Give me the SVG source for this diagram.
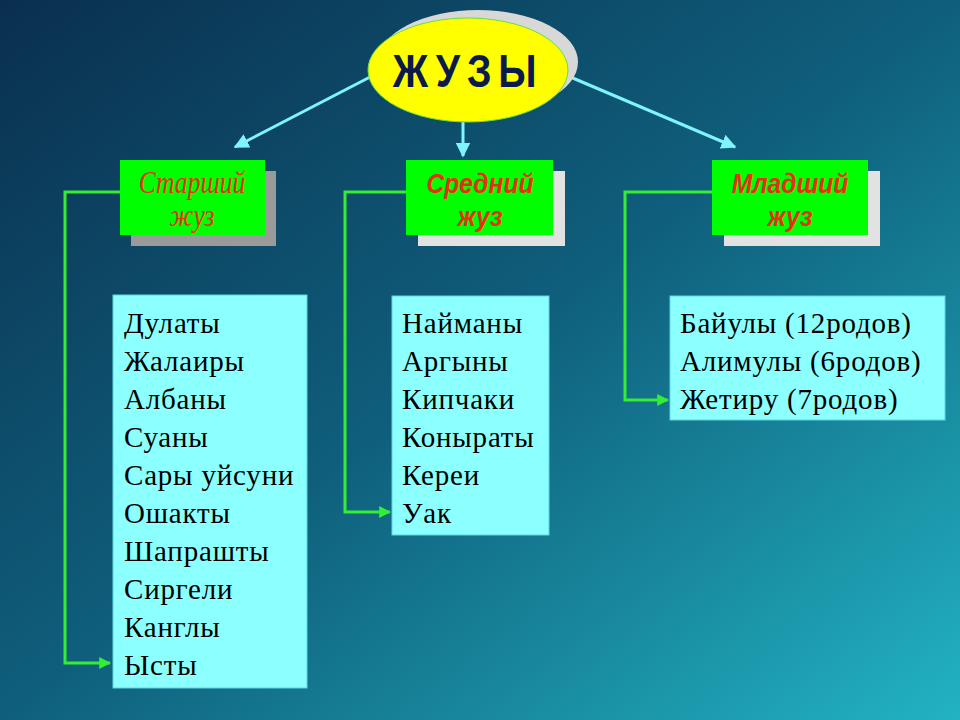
<svg xmlns="http://www.w3.org/2000/svg" width="960" height="720" viewBox="0 0 960 720">
<defs>
<linearGradient id="bg" x1="0" y1="0" x2="1" y2="1">
<stop offset="0" stop-color="#0a2f4e"/><stop offset="0.5" stop-color="#0f5f7c"/><stop offset="1" stop-color="#22b3c2"/>
</linearGradient>
<marker id="ca" viewBox="0 0 10 10" refX="9" refY="5" markerWidth="5" markerHeight="5" orient="auto"><path d="M0,0L10,5L0,10z" fill="#7ff4ff"/></marker>
<marker id="ga" viewBox="0 0 10 10" refX="9" refY="5" markerWidth="4" markerHeight="4" orient="auto"><path d="M0,0L10,5L0,10z" fill="#33ee33"/></marker>
<style>
.hd{fill:#00ff00}
.hs{fill:#9a9a9a}
.hl{fill:#e2e2e2}
.ht{font-family:"Liberation Sans",sans-serif;font-size:28px;font-style:italic;font-weight:bold;fill:#e83010;text-anchor:middle}
.hsr{font-family:"Liberation Serif",serif;font-size:32px;font-style:italic;fill:#e83010;text-anchor:middle}
.lb{fill:#8cffff;stroke:#5ad8e0;stroke-width:1}
.lt{font-family:"Liberation Serif",serif;font-size:29px;letter-spacing:0.8px;fill:#000}
.c{stroke:#7ff4ff;stroke-width:3;fill:none;marker-end:url(#ca)}
.g{stroke:#33ee33;stroke-width:3;fill:none;marker-end:url(#ga)}
</style>
</defs>
<rect width="960" height="720" fill="url(#bg)"/>
<g id="connectors">
<path class="c" d="M372,76L235,147"/>
<path class="c" d="M463,122L463,156"/>
<path class="c" d="M568,76L735,147"/>
<path class="g" d="M120,192H65V663H110"/>
<path class="g" d="M406,192H345V512H390"/>
<path class="g" d="M712,192H625V400H668"/>
</g>
<g id="root">
<ellipse cx="478" cy="62" rx="100" ry="52" fill="#d8d8d8"/>
<ellipse cx="468" cy="70" rx="100" ry="52" fill="#ffff00" stroke="#66dd44" stroke-width="1"/>
<text transform="translate(468,87) scale(0.85,1)" font-family="Liberation Sans,sans-serif" font-size="46" font-weight="bold" fill="#0a1a4a" text-anchor="middle" letter-spacing="8">ЖУЗЫ</text>
</g>
<g id="senior">
<rect class="hs" x="131" y="171" width="145" height="75"/>
<rect class="hd" x="120" y="160" width="145" height="75"/>
<text class="hsr" transform="translate(192,193) scale(0.8,1)">Старший</text>
<text class="hsr" transform="translate(192,226) scale(0.8,1)">жуз</text>
</g>
<g id="middle">
<rect class="hl" x="418" y="171" width="147" height="75"/>
<rect class="hd" x="406" y="160" width="147" height="75"/>
<text class="ht" transform="translate(480,193) scale(0.88,1)">Средний</text>
<text class="ht" transform="translate(480,226) scale(0.88,1)">жуз</text>
</g>
<g id="junior">
<rect class="hl" x="724" y="171" width="156" height="75"/>
<rect class="hd" x="712" y="160" width="156" height="75"/>
<text class="ht" transform="translate(790,193) scale(0.88,1)">Младший</text>
<text class="ht" transform="translate(790,226) scale(0.88,1)">жуз</text>
</g>
<g id="list1">
<rect class="lb" x="113" y="295" width="194" height="393"/>
<text class="lt" x="124" y="333">Дулаты</text>
<text class="lt" x="124" y="371">Жалаиры</text>
<text class="lt" x="124" y="409">Албаны</text>
<text class="lt" x="124" y="447">Суаны</text>
<text class="lt" x="124" y="485">Сары уйсуни</text>
<text class="lt" x="124" y="523">Ошакты</text>
<text class="lt" x="124" y="561">Шапрашты</text>
<text class="lt" x="124" y="599">Сиргели</text>
<text class="lt" x="124" y="637">Канглы</text>
<text class="lt" x="124" y="675">Ысты</text>
</g>
<g id="list2">
<rect class="lb" x="392" y="296" width="157" height="239"/>
<text class="lt" x="402" y="333">Найманы</text>
<text class="lt" x="402" y="371">Аргыны</text>
<text class="lt" x="402" y="409">Кипчаки</text>
<text class="lt" x="402" y="447">Коныраты</text>
<text class="lt" x="402" y="485">Кереи</text>
<text class="lt" x="402" y="523">Уак</text>
</g>
<g id="list3">
<rect class="lb" x="670" y="296" width="275" height="124"/>
<text class="lt" x="680" y="333">Байулы (12родов)</text>
<text class="lt" x="680" y="371">Алимулы (6родов)</text>
<text class="lt" x="680" y="409">Жетиру (7родов)</text>
</g>
</svg>
